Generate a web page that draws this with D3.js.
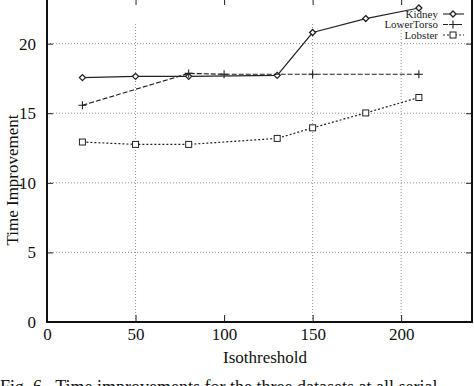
<!DOCTYPE html>
<html>
<head>
<meta charset="utf-8">
<style>
body { margin: 0; background: #fff; }
svg { display: block; font-family: "Liberation Serif", "Times New Roman", serif; }
.grid line { stroke: #888; stroke-width: 0.9; stroke-dasharray: 1,2; }
</style>
</head>
<body>
<div id="chart"></div>
<script src="https://cdn.jsdelivr.net/npm/d3@7/dist/d3.min.js"></script>
<script>
// series
var kidneyX = [20, 50, 80, 130, 150, 180, 210],
    kidneyY = [17.56, 17.65, 17.65, 17.72, 20.8, 21.8, 22.56];
var torsoX = [20, 80, 100, 150, 210],
    torsoY = [15.57, 17.86, 17.8, 17.8, 17.8];
var lobsterX = [20, 50, 80, 130, 150, 180, 210],
    lobsterY = [12.93, 12.76, 12.76, 13.19, 13.95, 15.02, 16.13];

var xTicks = [0, 50, 100, 150, 200],
    yTicks = [0, 5, 10, 15, 20],
    xGrid = [50, 150, 200],
    yGrid = [5, 10, 15, 20];

var width = 474, height = 386;
var margin = {left: 47, right: 2, top: -3, bottom: 64};
var yMax = 23.35;

var x = d3.scaleLinear().domain([0, 240]).range([margin.left, width - margin.right]);
var y = d3.scaleLinear().domain([0, yMax]).range([height - margin.bottom, margin.top]);

var svg = d3.select('#chart').append('svg')
    .attr('width', width)
    .attr('height', height);

// grid
var grid = svg.append('g').attr('class', 'grid');
grid.selectAll('.gx').data(xGrid).enter().append('line')
    .attr('x1', d => x(d)).attr('x2', d => x(d))
    .attr('y1', y(0)).attr('y2', 24);
grid.selectAll('.gy').data(yGrid).enter().append('line')
    .attr('x1', x(0)).attr('x2', x(240))
    .attr('y1', d => y(d)).attr('y2', d => y(d));

// axes (inward ticks like gnuplot)
var tickFont = 17;
svg.append('g')
    .attr('transform', 'translate(0,' + y(0) + ')')
    .call(d3.axisBottom(x).tickValues(xTicks).tickSize(-7).tickPadding(6))
    .call(g => g.select('.domain').remove())
    .call(g => g.selectAll('line').attr('stroke', '#222'))
    .call(g => g.selectAll('text').attr('font-size', tickFont).attr('font-family', 'Liberation Serif').attr('fill', '#111'));
svg.append('g')
    .attr('transform', 'translate(0,' + y(yMax) + ')')
    .call(d3.axisTop(x).tickValues(xTicks).tickSize(-8).tickFormat(''))
    .call(g => g.select('.domain').remove())
    .call(g => g.selectAll('line').attr('stroke', '#222'));
svg.append('g')
    .attr('transform', 'translate(' + x(0) + ',0)')
    .call(d3.axisLeft(y).tickValues(yTicks).tickSize(-6).tickPadding(11))
    .call(g => g.select('.domain').remove())
    .call(g => g.selectAll('line').attr('stroke', '#222'))
    .call(g => g.selectAll('text').attr('font-size', tickFont).attr('font-family', 'Liberation Serif').attr('fill', '#111'));
svg.append('g')
    .attr('transform', 'translate(' + x(240) + ',0)')
    .call(d3.axisRight(y).tickValues(yTicks).tickSize(-6).tickFormat(''))
    .call(g => g.select('.domain').remove())
    .call(g => g.selectAll('line').attr('stroke', '#222'));

// frame
svg.append('rect')
    .attr('x', x(0)).attr('y', y(yMax))
    .attr('width', x(240) - x(0)).attr('height', y(0) - y(yMax))
    .attr('fill', 'none').attr('stroke', '#111').attr('stroke-width', 2);

// series
var series = [
    {name: 'Kidney', xs: kidneyX, ys: kidneyY, dash: null, mark: 'diamond'},
    {name: 'LowerTorso', xs: torsoX, ys: torsoY, dash: '5,2', mark: 'plus'},
    {name: 'Lobster', xs: lobsterX, ys: lobsterY, dash: '2,2', mark: 'square'}
];

var line = d3.line().x(d => x(d[0])).y(d => y(d[1]));

function drawMark(g, type, cx, cy) {
    if (type == 'diamond') {
        g.append('path')
            .attr('d', 'M' + cx + ',' + (cy - 3) + 'L' + (cx + 3) + ',' + cy + 'L' + cx + ',' + (cy + 3) + 'L' + (cx - 3) + ',' + cy + 'Z')
            .attr('fill', '#fff').attr('stroke', '#222').attr('stroke-width', 1.3);
    } else if (type == 'plus') {
        g.append('path')
            .attr('d', 'M' + (cx - 4) + ',' + cy + 'H' + (cx + 4) + 'M' + cx + ',' + (cy - 4) + 'V' + (cy + 4))
            .attr('stroke', '#222').attr('stroke-width', 1.1);
    } else {
        g.append('rect')
            .attr('x', cx - 3).attr('y', cy - 3).attr('width', 6).attr('height', 6)
            .attr('fill', '#fff').attr('stroke', '#222').attr('stroke-width', 1);
    }
}

series.forEach(function(s) {
    var pts = s.xs.map((v, i) => [v, s.ys[i]]);
    var g = svg.append('g');
    g.append('path')
        .attr('d', line(pts))
        .attr('fill', 'none')
        .attr('stroke', '#222')
        .attr('stroke-width', 1.2)
        .attr('stroke-dasharray', s.dash);
    pts.forEach(p => drawMark(g, s.mark, x(p[0]), y(p[1])));
});

// legend
var legend = svg.append('g');
series.forEach(function(s, i) {
    var ly = 14 + i * 10.5;
    legend.append('text')
        .attr('x', 438).attr('y', ly + 3.5)
        .attr('text-anchor', 'end')
        .attr('font-size', 11)
        .attr('fill', '#222')
        .text(s.name);
    legend.append('line')
        .attr('x1', 443).attr('x2', 464).attr('y1', ly).attr('y2', ly)
        .attr('stroke', '#222').attr('stroke-width', 1.1)
        .attr('stroke-dasharray', s.dash);
    drawMark(legend, s.mark, 453, ly);
});

// axis titles
svg.append('text')
    .attr('transform', 'translate(18,' + 180 + ') rotate(-90)')
    .attr('text-anchor', 'middle')
    .attr('font-size', 17)
    .attr('fill', '#111')
    .text('Time Improvement');
svg.append('text')
    .attr('x', 265).attr('y', 363)
    .attr('text-anchor', 'middle')
    .attr('font-size', 17)
    .attr('fill', '#111')
    .text('Isothreshold');

// caption, cut off at the bottom edge like the reference
svg.append('text')
    .attr('x', 0).attr('y', 393)
    .attr('font-size', 18)
    .attr('fill', '#111')
    .attr('xml:space', 'preserve')
    .text('Fig. 6.  Time improvements for the three datasets at all serial');
</script>
</body>
</html>
